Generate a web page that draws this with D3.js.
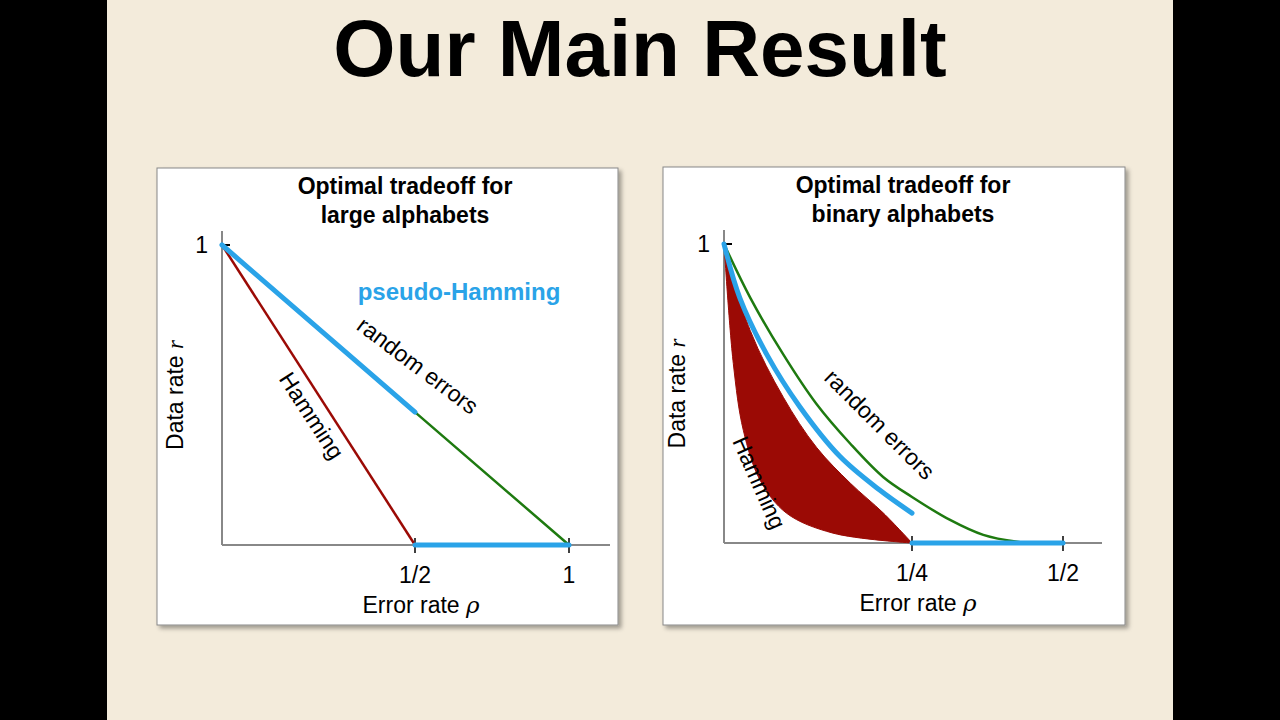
<!DOCTYPE html>
<html><head><meta charset="utf-8">
<script src="https://cdn.jsdelivr.net/npm/d3@7"></script>
<style>body{margin:0;background:#000}svg text{font-family:"Liberation Sans",Arial,sans-serif}</style>
</head><body>
<script>
// large alphabets (rho, r)
var largeHamming = [[0, 1], [0.5, 0]];
var largeRandom = [[0, 1], [0.5, 0.443], [1, 0]];
var largePseudo = [[0, 1], [0.5, 0.443]];
var largePseudoFlat = [[0.5, 0], [1, 0]];
var largeTicks = ["1/2", "1"];

// binary alphabets (rho, r)
var binRandom = [[0, 1], [0.035, 0.82], [0.079, 0.63], [0.123, 0.465], [0.168, 0.332], [0.212, 0.22], [0.25, 0.154], [0.313, 0.077], [0.368, 0.027], [0.424, 0.004], [0.451, 0]];
var binPseudo = [[0, 1], [0.021, 0.82], [0.057, 0.63], [0.101, 0.455], [0.154, 0.29], [0.207, 0.177], [0.25, 0.1]];
var binPseudoFlat = [[0.25, 0], [0.5, 0]];
var binHammingLow = [[0, 1], [0.0124, 0.6], [0.0257, 0.377], [0.048, 0.21], [0.083, 0.1], [0.145, 0.033], [0.25, 0]];
var binHammingHigh = [[0, 1], [0.035, 0.71], [0.079, 0.487], [0.123, 0.32], [0.168, 0.2], [0.212, 0.1], [0.25, 0]];
var binTicks = ["1/4", "1/2"];

var svg = d3.select("body").append("svg").attr("width", 1280).attr("height", 720);
svg.append("rect").attr("x", 107).attr("width", 1066).attr("height", 720).attr("fill", "#f3ebdb");
svg.append("text").attr("x", 640).attr("y", 76).attr("text-anchor", "middle")
    .attr("font-size", 80).attr("font-weight", "bold").text("Our Main Result");

var defs = svg.append("defs");
var f = defs.append("filter").attr("id", "sh").attr("x", "-5%").attr("y", "-5%").attr("width", "115%").attr("height", "115%");
f.append("feDropShadow").attr("dx", 3).attr("dy", 3).attr("stdDeviation", 2).attr("flood-opacity", 0.35);

var BLUE = "#2aa3e8", GREEN = "#1e7a10", RED = "#9b0a05";

function panel(o)
{
    var g = svg.append("g");
    g.append("rect").attr("x", o.box[0]).attr("y", o.box[1]).attr("width", o.box[2]).attr("height", o.box[3])
        .attr("fill", "#fff").attr("stroke", "#888").attr("filter", "url(#sh)");
    var x = d3.scaleLinear().domain(o.xd).range(o.xr);
    var y = d3.scaleLinear().domain([0, 1]).range([o.y0, o.y1]);
    var line = d3.line().x(function (d) { return x(d[0]); }).y(function (d) { return y(d[1]); });

    // axes
    g.append("line").attr("x1", x(0)).attr("x2", o.xEnd).attr("y1", y(0)).attr("y2", y(0)).attr("stroke", "#888").attr("stroke-width", 2);
    g.append("line").attr("x1", x(0)).attr("x2", x(0)).attr("y1", y(0)).attr("y2", y(1) - 14).attr("stroke", "#888").attr("stroke-width", 2);
    g.append("line").attr("x1", x(0)).attr("x2", x(0) + 8).attr("y1", y(1)).attr("y2", y(1)).attr("stroke", "#000").attr("stroke-width", 2);
    g.append("text").attr("x", x(0) - 14).attr("y", y(1) + 8).attr("text-anchor", "end").attr("font-size", 23).text("1");
    o.tickVals.forEach(function (v, i)
    {
        g.append("line").attr("x1", x(v)).attr("x2", x(v)).attr("y1", y(0) - 7).attr("y2", y(0) + 8).attr("stroke", "#000").attr("stroke-width", 1.5);
        g.append("text").attr("x", x(v)).attr("y", y(0) + 38).attr("text-anchor", "middle").attr("font-size", 23).text(o.ticks[i]);
    });

    o.draw(g, x, y, line);

    g.append("text").attr("x", o.tx).attr("y", o.box[1] + 26).attr("text-anchor", "middle").attr("font-size", 23).attr("font-weight", "bold").text(o.title[0]);
    g.append("text").attr("x", o.tx).attr("y", o.box[1] + 55).attr("text-anchor", "middle").attr("font-size", 23).attr("font-weight", "bold").text(o.title[1]);
    var xl = g.append("text").attr("x", (x(0) + o.xEnd) / 2 + 5).attr("y", y(0) + 68).attr("text-anchor", "middle").attr("font-size", 23);
    xl.append("tspan").text("Error rate ");
    xl.append("tspan").attr("font-family", "DejaVu Serif").attr("font-style", "italic").text("ρ");
    var yl = g.append("text").attr("transform", "translate(" + (x(0) - 39) + "," + ((y(0) + y(1)) / 2) + ") rotate(-90)")
        .attr("text-anchor", "middle").attr("font-size", 23);
    yl.append("tspan").text("Data rate ");
    yl.append("tspan").attr("font-family", "Liberation Serif").attr("font-style", "italic").text("r");

    o.labels.forEach(function (l)
    {
        g.append("text").attr("transform", "translate(" + l[0] + "," + l[1] + ") rotate(" + l[2] + ")")
            .attr("text-anchor", "middle").attr("font-size", 23).text(l[3]);
    });
}

function blue(g, line, pts)
{
    g.append("path").attr("d", line(pts)).attr("fill", "none").attr("stroke", BLUE).attr("stroke-width", 5).attr("stroke-linecap", "round");
}

panel({
    box: [157, 168, 461, 457], xd: [0, 0.5, 1], xr: [222, 415, 569], y0: 545, y1: 245, xEnd: 610,
    tickVals: [0.5, 1], ticks: largeTicks, tx: 405, title: ["Optimal tradeoff for", "large alphabets"],
    labels: [[413, 372, 37, "random errors"], [305, 420, 57, "Hamming"]],
    draw: function (g, x, y, line)
    {
        g.append("path").attr("d", line(largeHamming)).attr("fill", "none").attr("stroke", RED).attr("stroke-width", 2.5);
        g.append("path").attr("d", line(largeRandom)).attr("fill", "none").attr("stroke", GREEN).attr("stroke-width", 2.5);
        blue(g, line, largePseudo);
        blue(g, line, largePseudoFlat);
        g.append("text").attr("x", 459).attr("y", 300).attr("text-anchor", "middle").attr("font-size", 24)
            .attr("font-weight", "bold").attr("fill", BLUE).text("pseudo-Hamming");
    }
});

panel({
    box: [663, 167, 462, 458], xd: [0, 0.25, 0.5], xr: [724, 912, 1063], y0: 543, y1: 244, xEnd: 1102,
    tickVals: [0.25, 0.5], ticks: binTicks, tx: 903, title: ["Optimal tradeoff for", "binary alphabets"],
    labels: [[874, 430, 45, "random errors"], [752, 486, 66, "Hamming"]],
    draw: function (g, x, y, line)
    {
        var curve = line.curve(d3.curveCatmullRom.alpha(0.5));
        var region = curve(binHammingLow) + "L" + curve(binHammingHigh.slice().reverse()).slice(1) + "Z";
        g.append("path").attr("d", region).attr("fill", RED).attr("stroke", RED).attr("stroke-width", 1);
        g.append("path").attr("d", curve(binRandom)).attr("fill", "none").attr("stroke", GREEN).attr("stroke-width", 2.5);
        blue(g, curve, binPseudo);
        blue(g, curve, binPseudoFlat);
    }
});
</script>
</body></html>
